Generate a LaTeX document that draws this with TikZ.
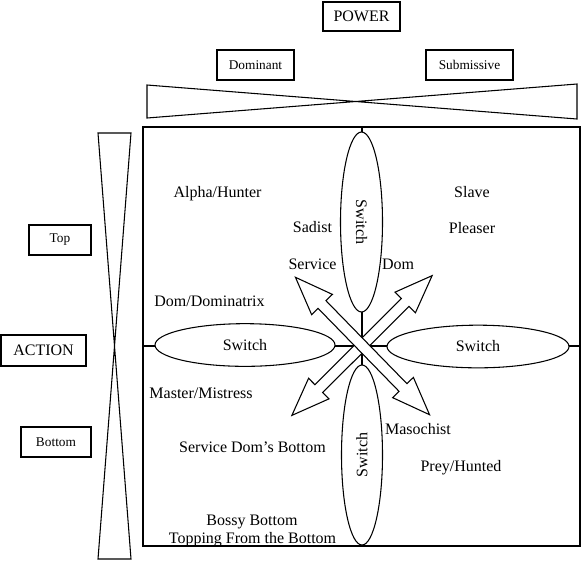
\documentclass[tikz,border=0pt]{standalone}
\usepackage{fontspec}
\setmainfont{Liberation Serif}
\usetikzlibrary{shapes.geometric}
\tikzset{
  lbox/.style={draw, line width=0.8pt, inner sep=0pt, font=\fontsize{12}{14}\selectfont},
  sbox/.style={draw, line width=0.8pt, inner sep=0pt, font=\fontsize{10}{12}\selectfont},
  sw/.style={draw, ellipse, line width=0.8pt, fill=white, inner sep=0pt, font=\fontsize{12}{14}\selectfont},
  lbl/.style={inner sep=0pt, anchor=base, font=\fontsize{12}{14}\selectfont},
  bow/.style={draw, line width=0.8pt},
  arrowshape/.style={draw, line width=0.8pt, fill=white, line join=miter},
  div/.style={draw, line width=0.8pt}
}
\begin{document}
\begin{tikzpicture}[x=0.75pt, y=-0.75pt]
\useasboundingbox (0,0) rectangle (581,562);

% top labels
\node (power) [lbox, minimum width=57.75pt, minimum height=21.75pt] at (361.5,16.5) {POWER};
\node (dominant) [sbox, minimum width=57.75pt, minimum height=22.5pt] at (255.5,65) {Dominant};
\node (submissive) [sbox, minimum width=65.25pt, minimum height=22.5pt] at (469.5,65) {Submissive};

% left labels
\node (top) [sbox, minimum width=46.5pt, minimum height=22.5pt] at (60,240) {Top};
\node (action) [lbox, minimum width=63.75pt, minimum height=23.25pt] at (43.5,350.5) {ACTION};
\node (bottom) [sbox, minimum width=52.5pt, minimum height=22.5pt] at (56,442) {Bottom};

% bowties
\draw[bow] (147,85) -- (577,119) -- (577,84) -- (147,118) -- cycle;
\draw[bow] (98,133) -- (131,559) -- (98,559) -- (131,133) -- cycle;

% main grid
\node (grid) [draw, line width=0.8pt, inner sep=0pt, minimum width=327.75pt, minimum height=314.25pt] at (361.5,336.5) {};
\coordinate (c) at (362,346);
\draw[div] (c |- grid.north) -- (c |- grid.south);
\draw[div] (c -| grid.west) -- (c -| grid.east);

% switch ellipses
\node (swtop) [sw, rotate=-90, minimum width=135pt, minimum height=31.5pt] at (361.5,222) {Switch};
\node (swbot) [sw, rotate=90, minimum width=135pt, minimum height=30.75pt] at (362,455) {Switch};
\node (swleft) [sw, minimum width=135pt, minimum height=32pt] at (245,345) {Switch};
\node (swright) [sw, minimum width=136.5pt, minimum height=32pt] at (478,346.5) {Switch};

% arrows
\begin{scope}[shift={(362,345.5)}, rotate=44.9]
\draw[arrowshape] (-99,0) -- (-61,14.5) -- (-61,5.5) -- (61,5.5) -- (61,14.5) -- (99,0)
  -- (61,-14.5) -- (61,-5.5) -- (-61,-5.5) -- (-61,-14.5) -- cycle;
\end{scope}
\begin{scope}[shift={(362.5,346)}, rotate=-45.7]
\draw[arrowshape] (-96,0) -- (-58,14.5) -- (-58,5.5) -- (58,5.5) -- (58,14.5) -- (96,0)
  -- (58,-14.5) -- (58,-5.5) -- (-58,-5.5) -- (-58,-14.5) -- cycle;
\end{scope}

% quadrant texts
\node (alpha) [lbl] at (217.5,197) {Alpha/Hunter};
\node (sadist) [lbl] at (312.5,232.5) {Sadist};
\node (service) [lbl] at (312.5,269.5) {Service};
\node (dom) [lbl] at (398,269.5) {Dom};
\node (slave) [lbl] at (472,197) {Slave};
\node (pleaser) [lbl] at (472,233.5) {Pleaser};
\node (domtrix) [lbl] at (209.5,306.5) {Dom/Dominatrix};
\node (master) [lbl] at (201,398.5) {Master/Mistress};
\node (sdb) [lbl] at (252.5,452) {Service Dom’s Bottom};
\node (bossy) [lbl] at (252,525.5) {Bossy Bottom};
\node (topping) [lbl] at (252.5,543) {Topping From the Bottom};
\node (maso) [lbl] at (418,434.5) {Masochist};
\node (prey) [lbl] at (461,471.5) {Prey/Hunted};
\end{tikzpicture}
\end{document}
